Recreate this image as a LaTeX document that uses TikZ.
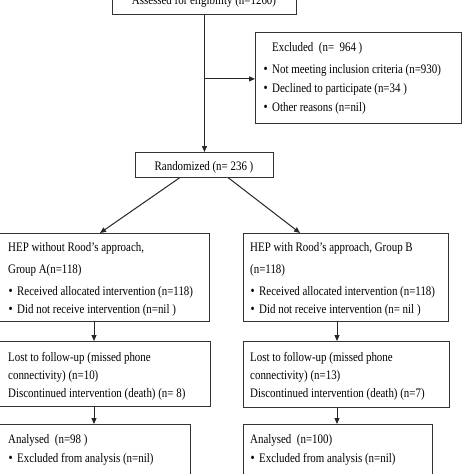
\documentclass[tikz,border=0pt]{standalone}
\usepackage{fontspec}
\setmainfont[FakeStretch=0.84]{Liberation Serif}
\usetikzlibrary{arrows.meta,calc}
\begin{document}
\begin{tikzpicture}[x=1pt,y=-1pt,
  box/.style={draw=black!80, line width=0.9pt, rectangle, anchor=north west, inner sep=0pt},
  txt/.style={anchor=base west, inner sep=0pt, font=\fontsize{13}{15}\selectfont, text=black},
  ctxt/.style={anchor=base, inner sep=0pt, font=\fontsize{13}{15}\selectfont, text=black},
  blt/.style={anchor=base west, inner sep=0pt, font=\fontsize{14}{15}\selectfont, text=black},
  arr/.style={draw=black!85, line width=1pt, -{Triangle[length=6pt,width=5pt]}}]
\useasboundingbox (0,0) rectangle (474,474);
\clip (0,0) rectangle (474,474);
% boxes
\node[box, minimum width=184pt, minimum height=27pt] (top) at (112,-13) {};
\node[box, minimum width=206pt, minimum height=91pt] (excl) at (255,32) {};
\node[box, minimum width=138pt, minimum height=25pt] (rand) at (135,152) {};
\node[box, minimum width=214pt, minimum height=88pt] (ga) at (-5,233) {};
\node[box, minimum width=205pt, minimum height=88pt] (gb) at (243,233) {};
\node[box, minimum width=215pt, minimum height=65pt] (la) at (-5,341) {};
\node[box, minimum width=206pt, minimum height=66pt] (lb) at (243,341) {};
\node[box, minimum width=195pt, minimum height=70pt] (aa) at (-5,424) {};
\node[box, minimum width=189pt, minimum height=70pt] (ab) at (243,424) {};
% texts
\node[ctxt] (t1) at (204,4.5) {Assessed for eligibility (n=1260)};
\node[txt] (e0) at (272,51.5) {Excluded \ (n= \ 964 )};
\node[blt] (eb1) at (263.5,73) {\textbullet};
\node[txt] (e1) at (272,73) {Not meeting inclusion criteria (n=930)};
\node[blt] (eb2) at (263.5,92) {\textbullet};
\node[txt] (e2) at (272,92) {Declined to participate (n=34 )};
\node[blt] (eb3) at (263.5,111.5) {\textbullet};
\node[txt] (e3) at (272,111.5) {Other reasons (n=nil)};
\node[ctxt] (r0) at (204,170.5) {Randomized (n= 236 )};
% group A
\node[txt] (a1) at (8,251.5) {HEP without Rood’s approach,};
\node[txt] (a2) at (8,273.3) {Group A(n=118)};
\node[blt] (ab1) at (8.5,295) {\textbullet};
\node[txt] (a3) at (17,295) {Received allocated intervention (n=118)};
\node[blt] (ab2) at (8.5,313.3) {\textbullet};
\node[txt] (a4) at (17,313.3) {Did not receive intervention (n=nil )};
% group B
\node[txt] (b1) at (250,251.5) {HEP with Rood’s approach, Group B};
\node[txt] (b2) at (250,273.3) {(n=118)};
\node[blt] (bb1) at (250.5,295) {\textbullet};
\node[txt] (b3) at (259,295) {Received allocated intervention (n=118)};
\node[blt] (bb2) at (250.5,313.3) {\textbullet};
\node[txt] (b4) at (259,313.3) {Did not receive intervention (n= nil )};
% lost A
\node[txt] (la1) at (8,361) {Lost to follow-up (missed phone};
\node[txt] (la2) at (8,379) {connectivity) (n=10)};
\node[txt] (la3) at (8,397.3) {Discontinued intervention (death) (n= 8)};
% lost B
\node[txt] (lb1) at (250,361) {Lost to follow-up (missed phone};
\node[txt] (lb2) at (250,379) {connectivity) (n=13)};
\node[txt] (lb3) at (250,397.3) {Discontinued intervention (death) (n=7)};
% analysed
\node[txt] (aa1) at (8,443.3) {Analysed \ (n=98 )};
\node[blt] (aab) at (8.5,462.3) {\textbullet};
\node[txt] (aa2) at (17,462.3) {Excluded from analysis (n=nil)};
\node[txt] (ab1t) at (250,443.3) {Analysed \ (n=100)};
\node[blt] (abb) at (250.5,462.3) {\textbullet};
\node[txt] (ab2t) at (259,462.3) {Excluded from analysis (n=nil)};
% connectors
\coordinate (br) at ($(top.south)+(0,64)$);
\draw[arr] (top.south) -- (top.south |- rand.north);
\draw[arr] (br) -- (br -| excl.west);
\draw[arr] ($(rand.south)+(-25,0)$) -- ($(ga.north west)+(105,0)$);
\draw[arr] ($(rand.south)+(24,0)$) -- ($(gb.north west)+(57,0)$);
\draw[arr] ($(ga.south west)+(99,0)$) -- ($(la.north west)+(99,0)$);
\draw[arr] ($(gb.south west)+(94,0)$) -- ($(lb.north west)+(94,0)$);
\draw[arr] ($(la.south west)+(99,0)$) -- ($(aa.north west)+(99,0)$);
\draw[arr] ($(lb.south west)+(94,0)$) -- ($(ab.north west)+(94,0)$);
\end{tikzpicture}
\end{document}
